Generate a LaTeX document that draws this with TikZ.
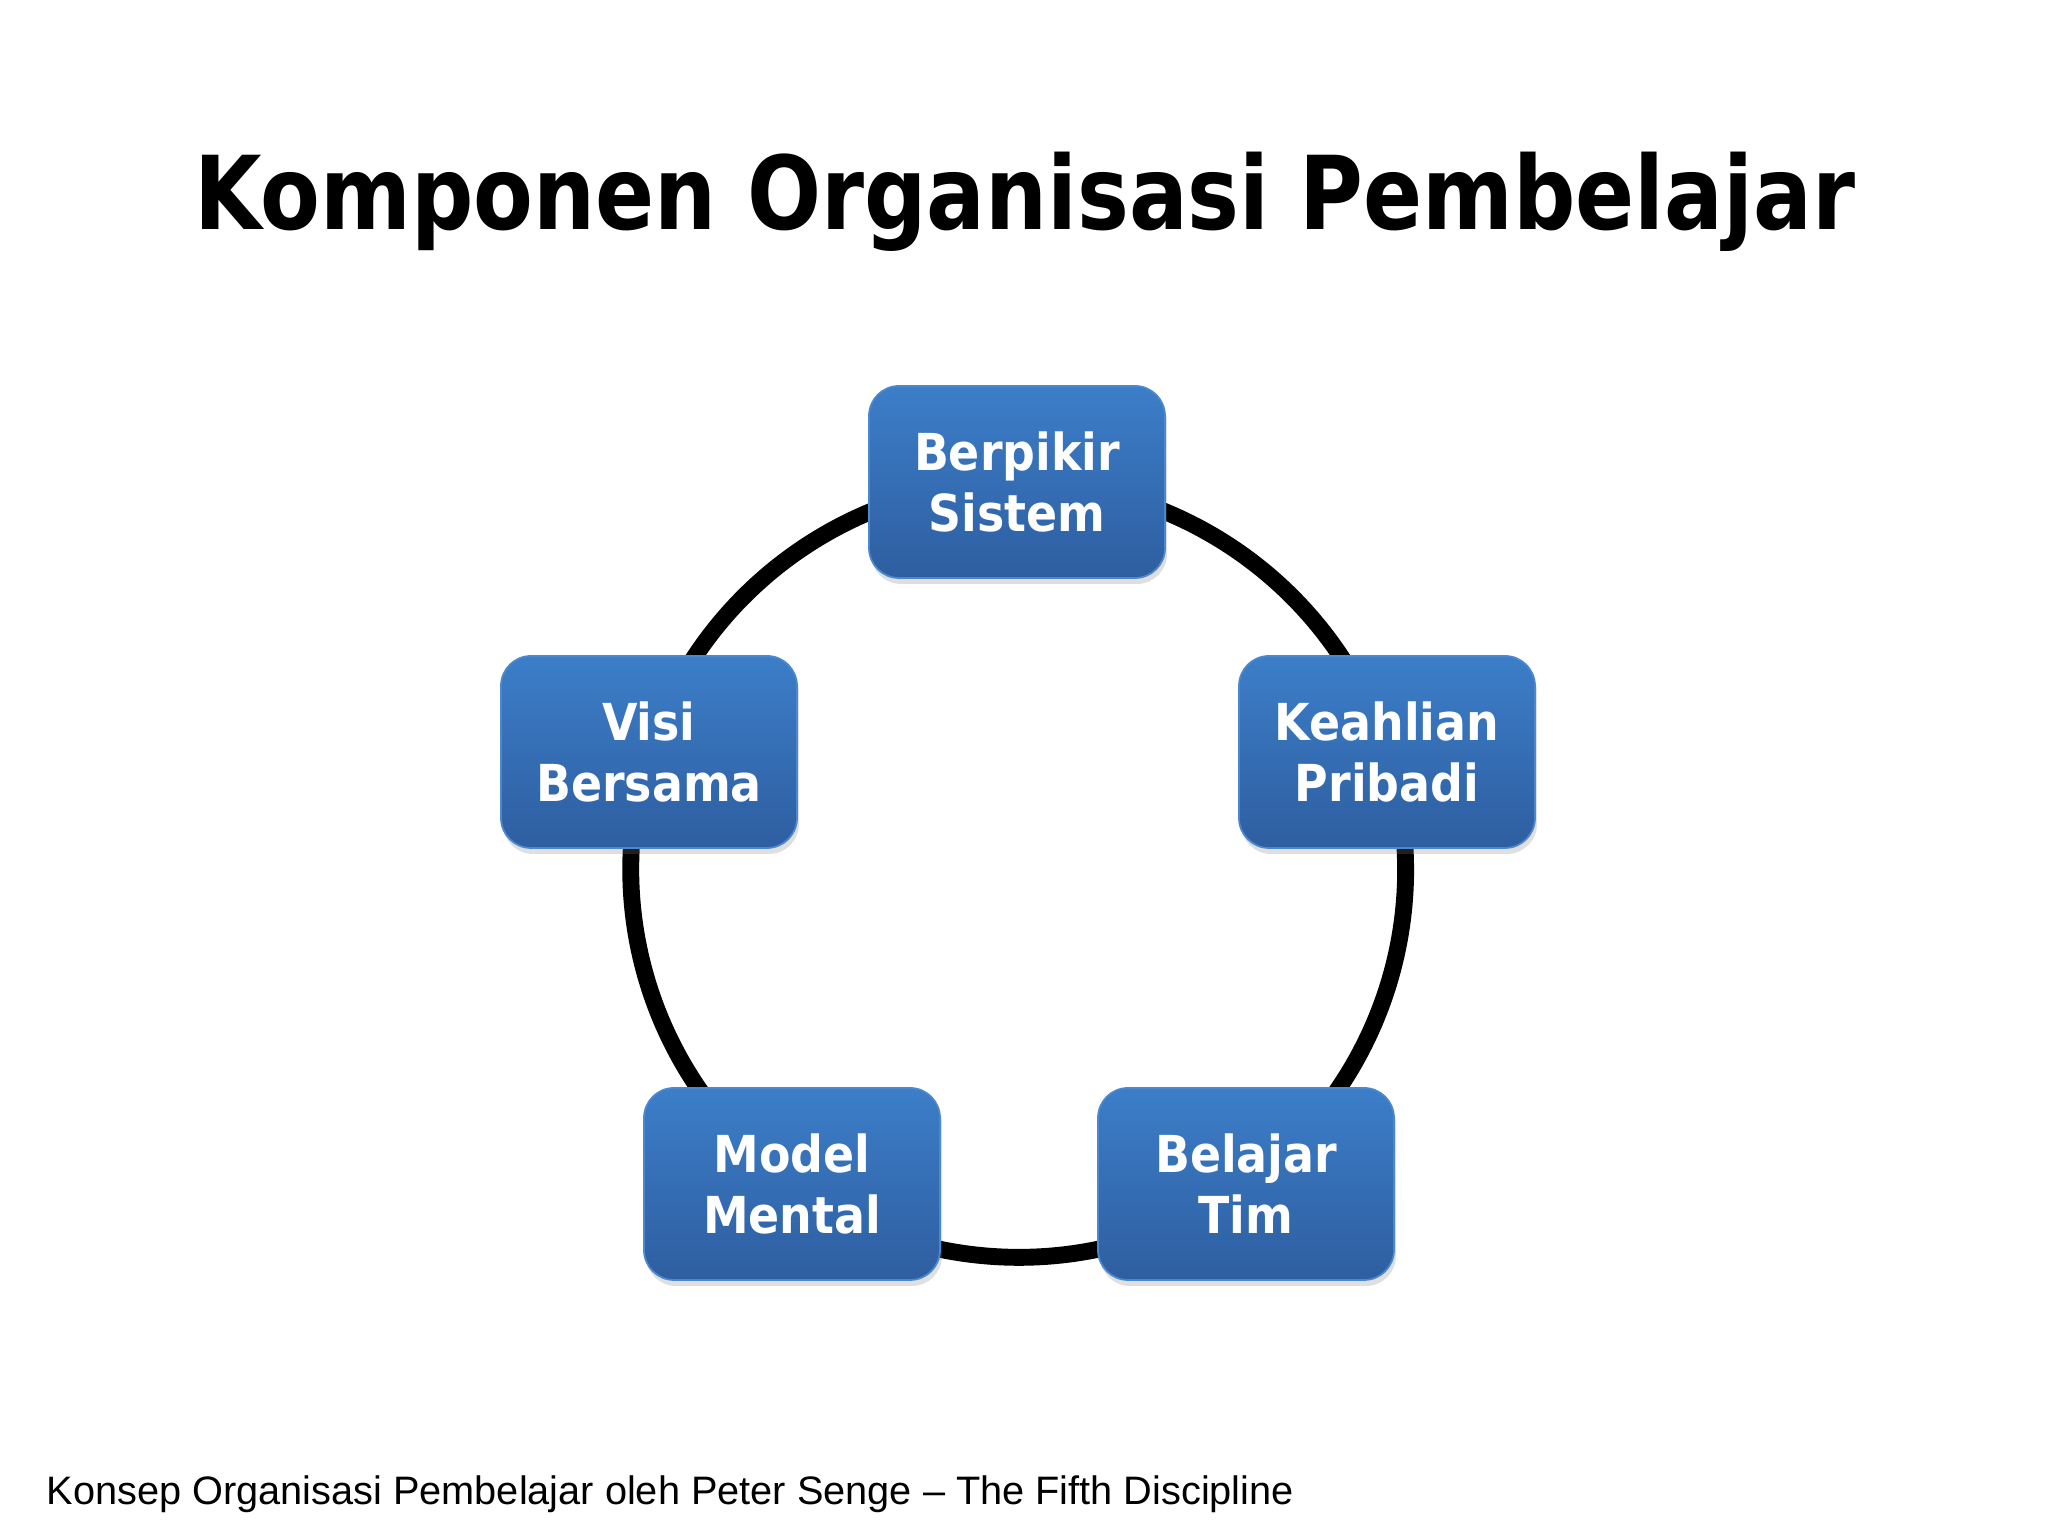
\documentclass[tikz,border=0pt]{standalone}
\usepackage{fontspec}
\setmainfont{Liberation Sans}
\newfontfamily\boxfont{DejaVu Sans Condensed}
\newfontfamily\titlefont{DejaVu Sans Condensed}[FakeStretch=0.95]
\usetikzlibrary{backgrounds,shadows}
\definecolor{boxtop}{RGB}{60,126,201}
\definecolor{boxbottom}{RGB}{46,94,160}

\begin{document}
\begin{tikzpicture}[
  komp/.style={rounded corners=0.3cm,minimum width=2.96cm,minimum height=1.92cm,
    top color=boxtop,bottom color=boxbottom,draw=boxtop!92!white,line width=0.5pt,
    text=white,align=center,font=\boxfont\bfseries\fontsize{14.5}{17.3}\selectfont,
    drop shadow={shadow xshift=0.02cm,shadow yshift=-0.06cm,opacity=0.25}},
  ring/.style={line width=4.8pt,looseness=0.94}]
\useasboundingbox (0,0) rectangle (20.48,15.36);
% judul dan catatan
\node[anchor=base,font=\titlefont\bfseries\fontsize{29}{35}\selectfont] (judul) at (10.25,13.06) {Komponen Organisasi Pembelajar};
\node[anchor=base west,inner sep=0pt,font=\fontsize{11.3}{13.5}\selectfont] (catatan) at (0.46,0.31) {Konsep Organisasi Pembelajar oleh Peter Senge – The Fifth Discipline};
% lima komponen
\node[komp] (sistem) at (10.17,10.54) {Berpikir\\Sistem};
\node[komp] (visi) at (6.49,7.84) {Visi\\Bersama};
\node[komp] (model) at (7.92,3.52) {Model\\Mental};
\node[komp] (tim) at (12.46,3.52) {Belajar\\Tim};
\node[komp] (keahlian) at (13.87,7.84) {Keahlian\\Pribadi};
% lingkaran penghubung
\begin{scope}[on background layer]
\fill[white] (0,0) rectangle (20.48,15.36);
\draw[ring] (sistem.center) to[bend right=36] (visi.center)
  to[bend right=36] (model.center) to[bend right=36] (tim.center)
  to[bend right=36] (keahlian.center) to[bend right=36] (sistem.center);
\end{scope}
\end{tikzpicture}
\end{document}
